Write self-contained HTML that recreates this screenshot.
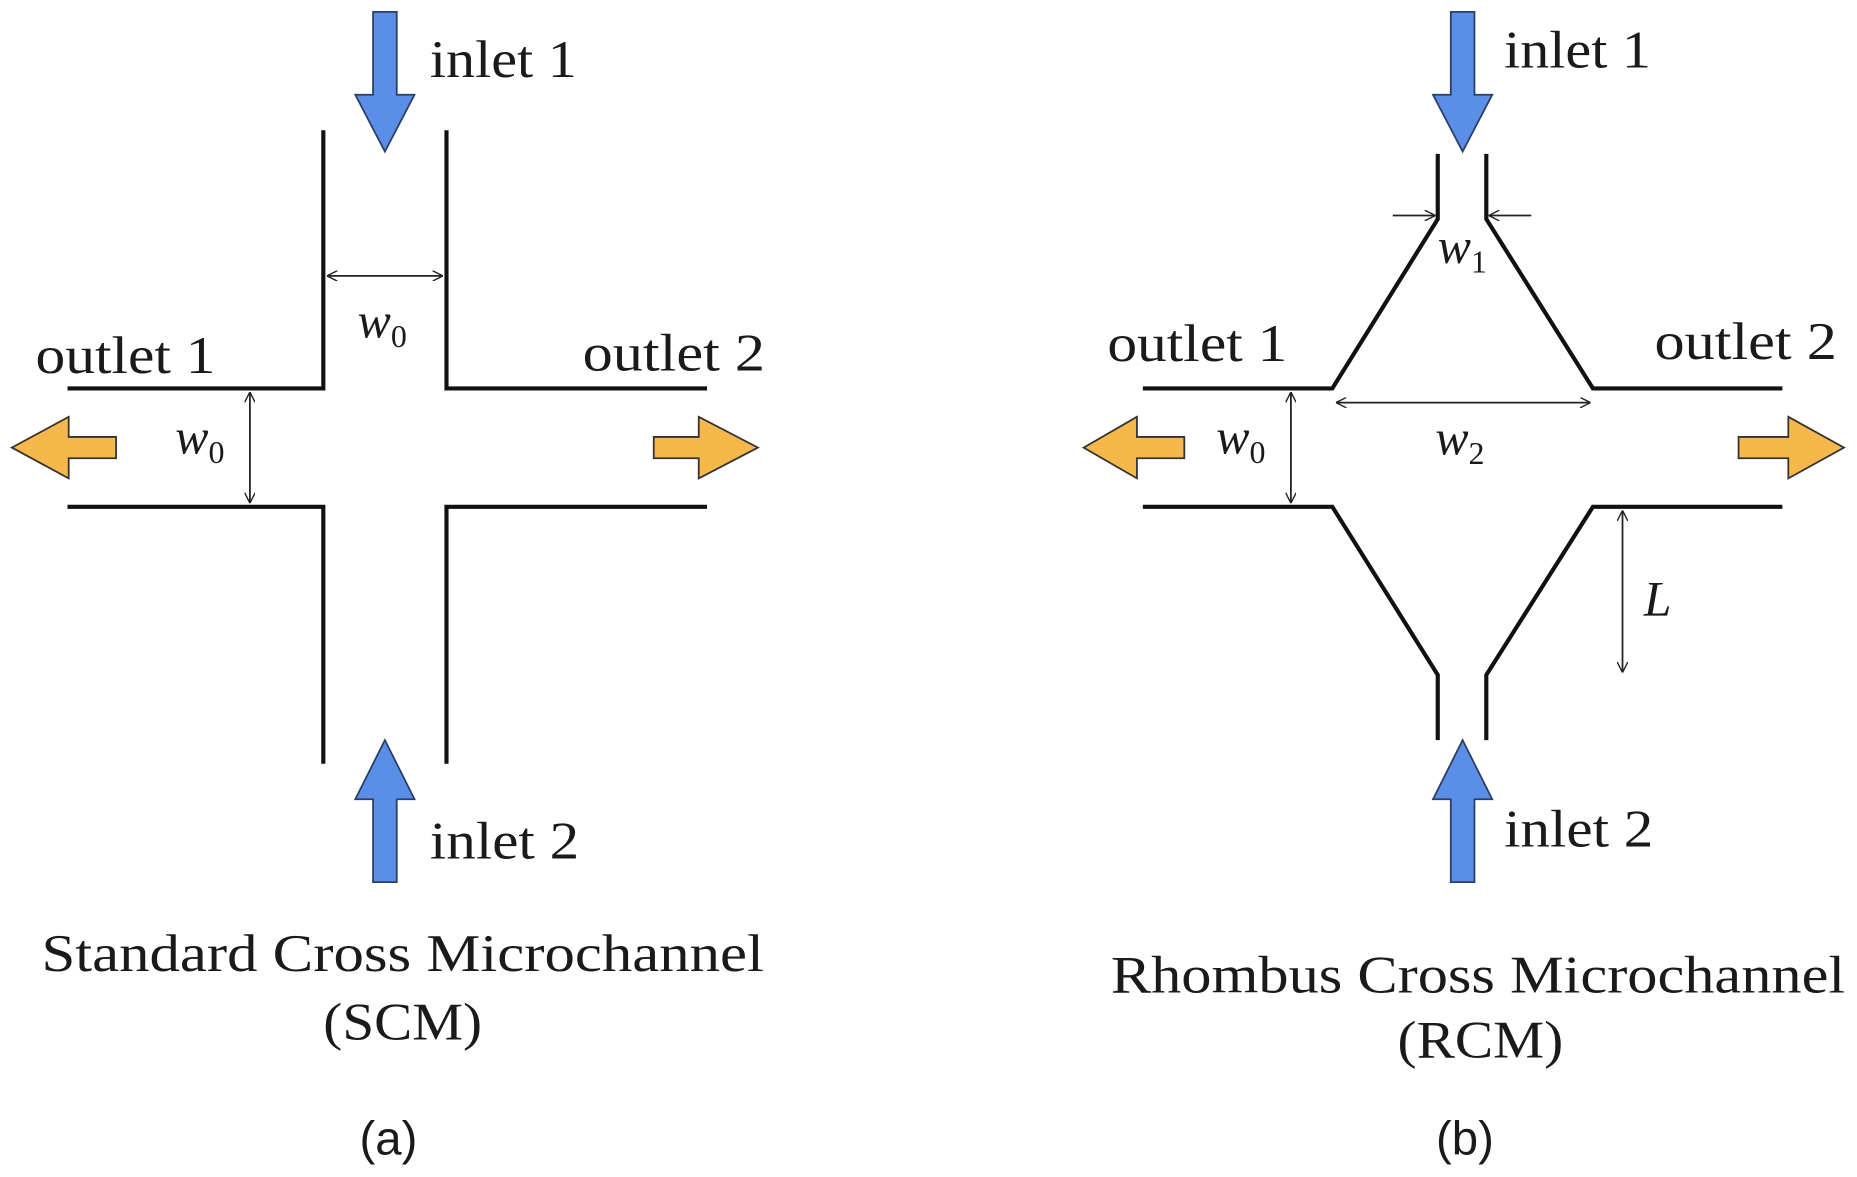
<!DOCTYPE html>
<html><head><meta charset="utf-8"><style>
html,body{margin:0;padding:0;background:#fff;}
svg{display:block;}
text{font-family:"Liberation Serif",serif;fill:#1a1a1a;}
</style></head><body>
<svg width="1857" height="1177" viewBox="0 0 1568 994" preserveAspectRatio="none" xmlns="http://www.w3.org/2000/svg">
<defs>
<marker id="ah" viewBox="0 0 10 10" refX="10" refY="5" markerWidth="9" markerHeight="9" orient="auto-start-reverse" markerUnits="userSpaceOnUse">
<path d="M0,0 L10,5 L0,10" fill="none" stroke="#222" stroke-width="1.3"/>
</marker>
</defs>
<g stroke="#111" stroke-width="3.5" fill="none">
<path d="M273,110 V328 H57 M377,110 V328 H597 M273,645 V428 H57 M377,645 V428 H597"/>
<path d="M1214,130 V185 L1125,328 H965 M1255,130 V185 L1345,328 H1505 M1214,625 V570 L1125,428 H965 M1255,625 V570 L1345,428 H1505"/>
</g>
<g stroke="#222" stroke-width="1.5" fill="none">
<line x1="276" y1="233" x2="374" y2="233" marker-start="url(#ah)" marker-end="url(#ah)"/>
<line x1="211" y1="331" x2="211" y2="425" marker-start="url(#ah)" marker-end="url(#ah)"/>
<line x1="1176" y1="182" x2="1212" y2="182" marker-end="url(#ah)"/>
<line x1="1293" y1="182" x2="1257" y2="182" marker-end="url(#ah)"/>
<line x1="1128" y1="340" x2="1343" y2="340" marker-start="url(#ah)" marker-end="url(#ah)"/>
<line x1="1090" y1="331" x2="1090" y2="425" marker-start="url(#ah)" marker-end="url(#ah)"/>
<line x1="1370" y1="431" x2="1370" y2="568" marker-start="url(#ah)" marker-end="url(#ah)"/>
</g>
<g fill="#5b8ee6" stroke="#2a3f66" stroke-width="1.5">
<path d="M315,10 H335 V80 H350 L325,128 L300,80 H315 Z"/>
<path d="M315,745 H335 V675 H350 L325,625 L300,675 H315 Z"/>
<path d="M1225,10 H1245 V80 H1260 L1235,128 L1210,80 H1225 Z"/>
<path d="M1225,745 H1245 V675 H1260 L1235,625 L1210,675 H1225 Z"/>
</g>
<g fill="#f7b84b" stroke="#333" stroke-width="1.5">
<path d="M98,369 V387 H58 V404 L10,378 L58,352 V369 Z"/>
<path d="M552,369 V387 H590 V404 L640,378 L590,352 V369 Z"/>
<path d="M1000,369 V387 H960 V404 L915,378 L960,352 V369 Z"/>
<path d="M1468,369 V387 H1510 V404 L1557,378 L1510,352 V369 Z"/>
</g>
<g font-size="45">
<text x="363" y="65" textLength="124" lengthAdjust="spacingAndGlyphs">inlet 1</text>
<text x="30" y="315" textLength="152" lengthAdjust="spacingAndGlyphs">outlet 1</text>
<text x="492" y="313" textLength="154" lengthAdjust="spacingAndGlyphs">outlet 2</text>
<text x="363" y="725" textLength="126" lengthAdjust="spacingAndGlyphs">inlet 2</text>
<text x="35" y="820" textLength="610" lengthAdjust="spacingAndGlyphs">Standard Cross Microchannel</text>
<text x="273" y="878" textLength="134" lengthAdjust="spacingAndGlyphs">(SCM)</text>
<text x="1270" y="57" textLength="124" lengthAdjust="spacingAndGlyphs">inlet 1</text>
<text x="935" y="305" textLength="152" lengthAdjust="spacingAndGlyphs">outlet 1</text>
<text x="1397" y="303" textLength="154" lengthAdjust="spacingAndGlyphs">outlet 2</text>
<text x="1270" y="715" textLength="126" lengthAdjust="spacingAndGlyphs">inlet 2</text>
<text x="938" y="838" textLength="620" lengthAdjust="spacingAndGlyphs">Rhombus Cross Microchannel</text>
<text x="1180" y="893" textLength="140" lengthAdjust="spacingAndGlyphs">(RCM)</text>
</g>
<g font-size="42" font-style="italic">
<text x="302" y="285">w<tspan font-size="27" font-style="normal" dy="8">0</tspan></text>
<text x="148" y="383">w<tspan font-size="27" font-style="normal" dy="8">0</tspan></text>
<text x="1214" y="222">w<tspan font-size="27" font-style="normal" dy="8">1</tspan></text>
<text x="1212" y="384">w<tspan font-size="27" font-style="normal" dy="8">2</tspan></text>
<text x="1027" y="383">w<tspan font-size="27" font-style="normal" dy="8">0</tspan></text>
<text x="1388" y="520">L</text>
</g>
<text x="328" y="975" text-anchor="middle" font-size="40" style="font-family:'Liberation Sans',sans-serif">(a)</text>
<text x="1237" y="975" text-anchor="middle" font-size="40" style="font-family:'Liberation Sans',sans-serif">(b)</text>
</svg>
</body></html>
